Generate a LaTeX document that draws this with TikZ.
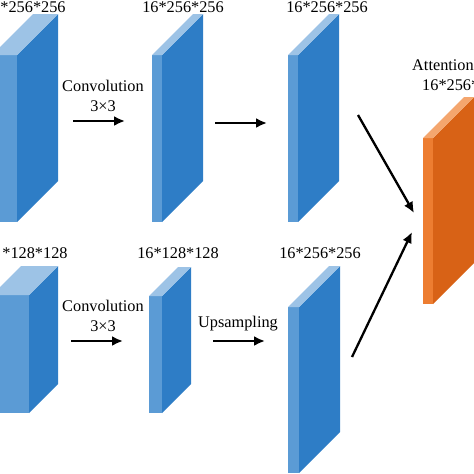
\documentclass[tikz,border=0pt]{standalone}
\usepackage{fontspec}
\setmainfont{Liberation Serif}
\usepackage{tikz}
\usetikzlibrary{calc,arrows.meta}

\definecolor{bluefront}{RGB}{91,155,213}
\definecolor{blueside}{RGB}{46,125,198}
\definecolor{bluetop}{RGB}{157,195,230}
\definecolor{orangefront}{RGB}{237,125,49}
\definecolor{orangeside}{RGB}{216,98,22}
\definecolor{orangetop}{RGB}{244,166,110}

% one feature map: left x, top y, front width, height, depth, colour prefix
\newcommand{\fmap}[6]{%
  \fill[#6front] (#1,#2) rectangle ++(#3,#4);
  \fill[#6side] (#1+#3,#2) -- ++(#5,-#5) -- ++(0,#4) -- ++(-#5,#5) -- cycle;
  \fill[#6top] (#1,#2) -- ++(#5,-#5) -- ++(#3,0) -- ++(-#5,#5) -- cycle;}

\tikzset{
  flow/.style={-{Latex[length=11pt,width=10pt]},line width=2.3pt,black},
  dims/.style={inner sep=0pt,font=\fontsize{16.3}{19.5}\selectfont},
}

\begin{document}
\begin{tikzpicture}[x=1pt,y=-1pt]
              \useasboundingbox (0,0) rectangle (474,474);
              \clip (0,0) rectangle (474,474);
              % upper branch
              \fmap{-8}{55}{25}{167}{41}{blue}
              \fmap{152}{55}{10}{167}{41}{blue}
              \fmap{288}{55}{10}{167}{41}{blue}
              % lower branch
              \fmap{-8}{295}{37}{118}{29}{blue}
              \fmap{149}{296}{13}{117}{29}{blue}
              \fmap{288}{307}{11}{166}{41}{blue}
              % attention
              \fmap{423}{138}{10}{166}{41}{orange}

              \node[dims](inA)at(33,7){*256*256};
              \node[dims](convA)at(183,7){16*256*256};
              \node[dims](outA)at(327,7){16*256*256};
              \node[dims](inB)at(35,253){*128*128};
              \node[dims](convB)at(178,253){16*128*128};
              \node[dims](upB)at(320,253){16*256*256};
              \node[dims,anchor=west](att)at(412,65){Attention};
              \node[dims,anchor=west](attdim)at(422,85){16*256*};

              \coordinate(a1s)at(73,121);  \coordinate(a1e)at(125,121);
              \coordinate(a2s)at(215,123); \coordinate(a2e)at(267,123);
              \coordinate(a3s)at(358,115); \coordinate(a3e)at(414,213);
              \coordinate(b1s)at(71,341);  \coordinate(b1e)at(123,341);
              \coordinate(b2s)at(213,341); \coordinate(b2e)at(265,341);
              \coordinate(b3s)at(352,357); \coordinate(b3e)at(412,232);

              \draw[flow](a1s)--(a1e);
              \draw[flow](a2s)--(a2e);
              \draw[flow](a3s)--(a3e);
              \draw[flow](b1s)--(b1e);
              \draw[flow](b2s)--(b2e);
              \draw[flow](b3s)--(b3e);

              \node[dims,align=center](convtxtA)at(103,96){Convolution\\3×3};
              \node[dims,align=center](convtxtB)at(103,316){Convolution\\3×3};
              \node[dims](uptxt)at(238,324){Upsampling};
            \end{tikzpicture}
\end{document}
